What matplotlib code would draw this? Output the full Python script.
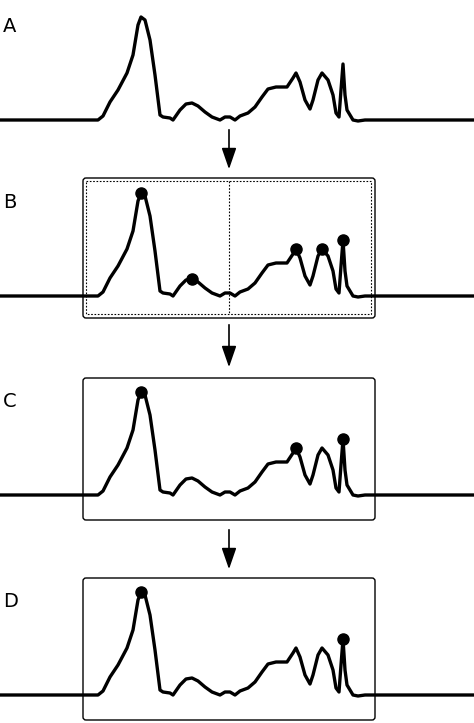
import numpy as np
import matplotlib.pyplot as plt
from matplotlib.patches import Rectangle, FancyBboxPatch

# signal trace (x in px, height above baseline in px)
trace_x = [0, 98, 103, 110, 118, 127, 133, 138, 141, 145, 150, 155, 160, 163, 170, 173,
           180, 186, 192, 198, 205, 212, 220, 225, 230, 235, 240, 248, 255, 262, 268, 276,
           287, 293, 296, 300, 305, 310, 313, 318, 322, 328, 333, 336, 339, 341, 343, 345,
           347, 350, 353, 358, 365, 474]
trace_h = [0, 0, 4, 18, 30, 47, 65, 95, 103, 100, 80, 45, 5, 3, 2, 0,
           10, 16, 17, 14, 8, 3, 0, 3, 3, 0, 4, 7, 13, 23, 31, 33,
           33, 42, 47, 38, 20, 11, 20, 40, 47, 40, 25, 7, 3, 30, 56, 25,
           10, 5, 0, -1, 0, 0]

panels = ["A", "B", "C", "D"]
baselines = [120, 296, 495, 695]
picked = {"B": [8, 18, 34, 40, 46], "C": [8, 34, 46], "D": [8, 46]}
boxes = {"B": (83, 178, 375, 318), "C": (83, 378, 375, 520), "D": (83, 578, 375, 720)}
arrows = [(127, 172), (322, 370), (527, 572)]

fig = plt.figure(figsize=(4.74, 7.23), dpi=100)
ax = fig.add_axes([0, 0, 1, 1])
ax.set_xlim(0, 474)
ax.set_ylim(723, 0)
ax.axis("off")

x = np.array(trace_x)
h = np.array(trace_h)
for name, base in zip(panels, baselines):
    ax.plot(x, base - h, color="black", lw=2.4, solid_joinstyle="round", zorder=3)
    ax.text(3, base - 103, name, fontsize=14, ha="left", va="top", family="DejaVu Sans")
    if name in picked:
        idx = picked[name]
        ax.plot(x[idx], base - h[idx], "o", color="black", ms=8, zorder=4)
        x0, y0, x1, y1 = boxes[name]
        ax.add_patch(FancyBboxPatch((x0, y0), x1 - x0, y1 - y0,
                                    boxstyle="round,pad=0,rounding_size=3",
                                    fill=False, ec="black", lw=1.0, zorder=2))

# dotted guides in panel B
ax.add_patch(Rectangle((86, 181), 285, 133, fill=False, ec="black", lw=0.8, ls=(0, (1.5, 1.5))))
ax.plot([229, 229], [181, 314], color="black", lw=0.8, ls=(0, (1.5, 1.5)))

for y0, y1 in arrows:
    ax.annotate("", xy=(229, y1), xytext=(229, y0),
                arrowprops=dict(arrowstyle="-|>,head_width=0.45,head_length=1.3",
                                color="black", lw=1.2))

fig.savefig("out.png", dpi=100)
